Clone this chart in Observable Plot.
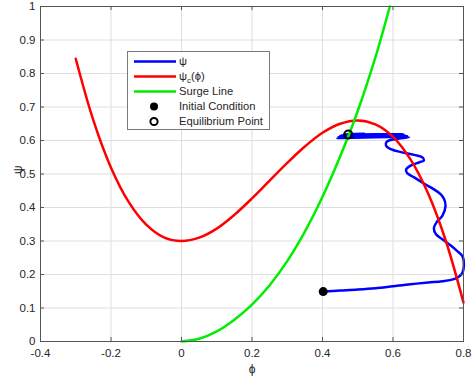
<!DOCTYPE html>
<html><head><meta charset="utf-8">
<script src="https://cdn.jsdelivr.net/npm/d3@7"></script>
<script src="https://cdn.jsdelivr.net/npm/@observablehq/plot@0.6"></script>
<style>
body{margin:0;background:#fff;font-family:"Liberation Sans",Arial,sans-serif;}
#wrap{position:relative;width:474px;height:379px;}
#legend{position:absolute;left:127px;top:51px;width:141px;height:77px;border:1px solid #7a7a7a;background:#fff;font-size:11.2px;color:#262626;}
.row{position:absolute;left:0;height:15px;width:140px;}
.row svg{position:absolute;left:0;top:0;}
.row span{position:absolute;left:51px;top:1px;line-height:13px;white-space:nowrap;}
sub{font-size:8px;vertical-align:-3px;line-height:0;}
</style>
</head><body>
<div id="wrap"><div id="chart"></div>
<div id="legend"></div></div>
<script>
// Axis ticks
const phiTicks = [-0.4, -0.2, 0, 0.2, 0.4, 0.6, 0.8];
const psiTicks = [0, 0.1, 0.2, 0.3, 0.4, 0.5, 0.6, 0.7, 0.8, 0.9, 1];

// Compressor characteristic psi_c(phi) (red)
const compPhi = [-0.30, -0.25, -0.20, -0.15, -0.10, -0.05, 0.00, 0.05, 0.10, 0.15, 0.20, 0.25, 0.30, 0.35, 0.40, 0.45, 0.50, 0.55, 0.60, 0.65, 0.70, 0.75, 0.80];
const compPsi = [0.844, 0.660, 0.519, 0.417, 0.349, 0.311, 0.300, 0.310, 0.337, 0.378, 0.427, 0.480, 0.533, 0.582, 0.623, 0.650, 0.660, 0.648, 0.611, 0.543, 0.441, 0.300, 0.116];

// Surge line (green)
const surgePhi = [0, 0.05, 0.10, 0.15, 0.20, 0.25, 0.30, 0.35, 0.40, 0.45, 0.50, 0.55, 0.591];
const surgePsi = [0, 0.008, 0.030, 0.065, 0.110, 0.168, 0.240, 0.328, 0.432, 0.552, 0.688, 0.848, 1.0];

// Trajectory psi (blue)
const trajPhi = [0.402, 0.45, 0.50, 0.55, 0.60, 0.65, 0.70, 0.74, 0.765, 0.785, 0.797, 0.801, 0.797, 0.78, 0.763, 0.74, 0.722, 0.716, 0.725, 0.74, 0.749, 0.745, 0.735, 0.715, 0.69, 0.66, 0.64, 0.637, 0.65, 0.675, 0.688, 0.683, 0.66, 0.62, 0.592, 0.58, 0.582, 0.605, 0.645, 0.442, 0.640, 0.445, 0.635, 0.450, 0.630, 0.460, 0.520, 0.473];
const trajPsi = [0.149, 0.152, 0.155, 0.159, 0.165, 0.171, 0.176, 0.180, 0.184, 0.192, 0.205, 0.227, 0.255, 0.272, 0.287, 0.305, 0.320, 0.338, 0.358, 0.375, 0.405, 0.425, 0.440, 0.455, 0.470, 0.490, 0.503, 0.513, 0.525, 0.535, 0.541, 0.550, 0.557, 0.566, 0.575, 0.585, 0.596, 0.604, 0.610, 0.607, 0.613, 0.611, 0.616, 0.615, 0.619, 0.618, 0.620, 0.618];

const initialPoint = [0.402, 0.149];
const equilibriumPoint = [0.473, 0.618];

const legendItems = ["ψ", "ψ<sub>c</sub>(ϕ)", "Surge Line", "Initial Condition", "Equilibrium Point"];
const legendColors = ["#0000ff", "#ff0000", "#00ee00", null, null];

const idx = a => a.map((_, i) => i);
const axisColor = "#555";
const chart = Plot.plot({
  width: 474, height: 379,
  marginLeft: 40, marginRight: 11, marginTop: 6, marginBottom: 38,
  style: {fontFamily: "'Liberation Sans', Arial, sans-serif", fontSize: "11.5px", color: "#262626", background: "#fff"},
  x: {domain: [-0.4, 0.8]},
  y: {domain: [0, 1]},
  marks: [
    Plot.gridX(phiTicks, {stroke: "#dedede", strokeOpacity: 1}),
    Plot.gridY(psiTicks, {stroke: "#dedede", strokeOpacity: 1}),
    Plot.line(idx(trajPhi), {x: i => trajPhi[i], y: i => trajPsi[i], stroke: "#0000ff", strokeWidth: 2.5, curve: "catmull-rom"}),
    Plot.line(idx(compPhi), {x: i => compPhi[i], y: i => compPsi[i], stroke: "#ff0000", strokeWidth: 2.5, curve: "catmull-rom"}),
    Plot.line(idx(surgePhi), {x: i => surgePhi[i], y: i => surgePsi[i], stroke: "#00ee00", strokeWidth: 2.5, curve: "catmull-rom"}),
    Plot.dot([initialPoint], {x: d => d[0], y: d => d[1], r: 4.5, fill: "#000"}),
    Plot.dot([equilibriumPoint], {x: d => d[0], y: d => d[1], r: 4, fill: "none", stroke: "#000", strokeWidth: 2}),
    Plot.ruleX(phiTicks, {x: d => d, y1: 0, y2: 0.012, stroke: axisColor}),
    Plot.ruleX(phiTicks, {x: d => d, y1: 0.988, y2: 1, stroke: axisColor}),
    Plot.ruleY(psiTicks, {y: d => d, x1: -0.4, x2: -0.3887, stroke: axisColor}),
    Plot.ruleY(psiTicks, {y: d => d, x1: 0.7887, x2: 0.8, stroke: axisColor}),
    Plot.frame({stroke: axisColor}),
    Plot.axisX(phiTicks, {tickSize: 0, tickPadding: 7, tickFormat: d => String(d), label: null}),
    Plot.axisY(psiTicks, {tickSize: 0, tickPadding: 5, tickFormat: d => String(d), label: null}),
    Plot.text(["ϕ"], {frameAnchor: "bottom", dy: 31, text: d => d, fontSize: 12}),
    Plot.text(["ψ"], {frameAnchor: "left", dx: -22, rotate: -90, text: d => d, fontSize: 12})
  ]
});
document.getElementById("chart").appendChild(chart);

const leg = document.getElementById("legend");
const rowTops = [1.5, 16.5, 32, 47, 61.5];
legendItems.forEach((t, i) => {
  const row = document.createElement("div");
  row.className = "row";
  row.style.top = rowTops[i] + "px";
  let sw;
  if (legendColors[i]) {
    sw = `<svg width="50" height="15"><line x1="6" x2="48" y1="7.5" y2="7.5" stroke="${legendColors[i]}" stroke-width="2.5"/></svg>`;
  } else if (i === 3) {
    sw = `<svg width="50" height="15"><circle cx="26" cy="7.5" r="4" fill="#000"/></svg>`;
  } else {
    sw = `<svg width="50" height="15"><circle cx="26" cy="7.5" r="3.6" fill="none" stroke="#000" stroke-width="2"/></svg>`;
  }
  row.innerHTML = sw + `<span>${t}</span>`;
  leg.appendChild(row);
});
</script>
</body></html>
